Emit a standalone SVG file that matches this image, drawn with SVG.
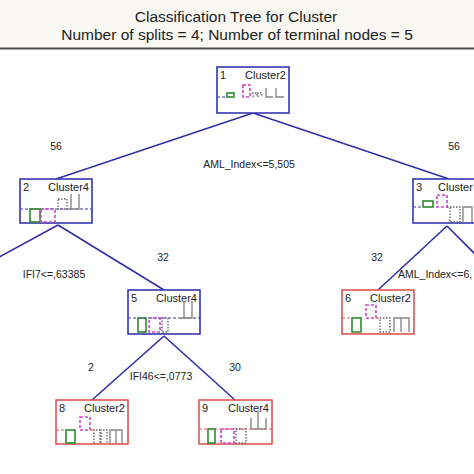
<svg xmlns="http://www.w3.org/2000/svg" width="474" height="474" viewBox="0 0 474 474">
<style>
text{font-family:"Liberation Sans",Arial,sans-serif;fill:#222}
.t{font-size:15.5px;text-anchor:middle}
.n{font-size:11px}
.r{text-anchor:end}
.lbl{font-size:10.5px;text-anchor:middle}
.bb{fill:#fff;stroke:#3535b0;stroke-width:1.6}
.rb{fill:#fff;stroke:#e05555;stroke-width:1.6}
.bd{stroke:#3535b0;stroke-width:1.2;stroke-dasharray:3 2;fill:none}
.rd{stroke:#e05555;stroke-width:1.2;stroke-dasharray:3 2;fill:none}
.g{fill:none;stroke:#2e8b2e;stroke-width:1.6}
.m{fill:none;stroke:#d040d0;stroke-width:1.6;stroke-dasharray:3 2}
.d{fill:none;stroke:#666;stroke-width:1.4;stroke-dasharray:1.5 1.5}
.s{fill:none;stroke:#888;stroke-width:1.4}
.c{stroke:#3030a8;stroke-width:1.6;fill:none}
</style>
<rect width="474" height="474" fill="#fff"/>
<rect width="474" height="48" fill="#f9f8f2"/>
<line x1="0" y1="48.5" x2="474" y2="48.5" stroke="#4a4a4a" stroke-width="2.2"/>
<text class="t" x="236" y="22">Classification Tree for Cluster</text>
<text class="t" x="237" y="40">Number of splits = 4; Number of terminal nodes = 5</text>

<g id="connectors">
<path class="c" d="M253,113 L56,179 M253,113 L449,179"/>
<path class="c" d="M58,225 L-10,262 M58,225 L164,290"/>
<path class="c" d="M447,226 L378,290 M447,226 L480,259"/>
<path class="c" d="M164,336 L92,400 M164,336 L235,400"/>
</g>

<g id="edge-labels">
<text class="lbl" x="56" y="150">56</text>
<text class="lbl" x="454" y="150">56</text>
<text class="lbl" x="249" y="168">AML_Index&lt;=5,505</text>
<text class="lbl" x="163" y="261">32</text>
<text class="lbl" x="377" y="261">32</text>
<text class="lbl" x="54" y="278">IFI7&lt;=,63385</text>
<text class="lbl" x="398" y="278" style="text-anchor:start">AML_Index&lt;=6,</text>
<text class="lbl" x="91" y="371">2</text>
<text class="lbl" x="235" y="371">30</text>
<text class="lbl" x="161" y="380">IFI46&lt;=,0773</text>
</g>

<g id="node1">
<rect class="bb" x="217" y="67" width="72" height="46"/>
<text class="n" x="220" y="79">1</text>
<text class="n r" x="286" y="79">Cluster2</text>
<line class="bd" x1="217" y1="97" x2="226" y2="97"/>
<rect class="g" x="227" y="93" width="7" height="4"/>
<rect class="m" x="243" y="85" width="7" height="12"/>
<path class="d" d="M253,97 V93 H257 V97 M258,97 V93 H262 V97"/>
<path class="s" d="M266,88 V97 H273 M276,88 V97 H284"/>
</g>

<g id="node2">
<rect class="bb" x="20" y="179" width="72" height="44"/>
<text class="n" x="23" y="191">2</text>
<text class="n r" x="89" y="191">Cluster4</text>
<line class="bd" x1="20" y1="209" x2="92" y2="209"/>
<rect class="g" x="30" y="209" width="10" height="13"/>
<rect class="m" x="41" y="209" width="14" height="13"/>
<rect class="d" x="58" y="199" width="9" height="10"/>
<path class="s" d="M67,209 H71 V194 M71,209 H79 V194"/>
</g>

<g id="node3">
<rect class="bb" x="413" y="179" width="72" height="44"/>
<text class="n" x="416" y="191">3</text>
<text class="n" x="438" y="191">Cluster</text>
<line class="bd" x1="413" y1="207" x2="422" y2="207"/>
<rect class="g" x="423" y="201" width="10" height="6"/>
<rect class="m" x="437" y="195" width="10" height="12"/>
<line class="d" x1="447" y1="207" x2="450" y2="207"/>
<rect class="d" x="450" y="207" width="10" height="15"/>
<path class="s" d="M463,222 V207 H472 V222"/>
</g>

<g id="node5">
<rect class="bb" x="128" y="290" width="72" height="44"/>
<text class="n" x="131" y="302">5</text>
<text class="n r" x="197" y="302">Cluster4</text>
<line class="bd" x1="128" y1="318" x2="200" y2="318"/>
<rect class="g" x="138" y="318" width="8" height="14"/>
<rect class="m" x="149" y="318" width="11" height="14"/>
<rect class="d" x="162" y="318" width="6" height="14"/>
<path class="s" d="M180,318 H184 V301 M184,318 H192 V301"/>
</g>

<g id="node6">
<rect class="rb" x="342" y="290" width="72" height="44"/>
<text class="n" x="345" y="302">6</text>
<text class="n r" x="411" y="302">Cluster2</text>
<line class="rd" x1="342" y1="318" x2="351" y2="318"/>
<rect class="g" x="352" y="318" width="9" height="14"/>
<rect class="m" x="366" y="305" width="10" height="13"/>
<line class="rd" x1="376" y1="318" x2="380" y2="318"/>
<rect class="d" x="380" y="318" width="10" height="14"/>
<path class="s" d="M394,332 V318 H401 V332 M401,318 H409 V332"/>
</g>

<g id="node8">
<rect class="rb" x="56" y="400" width="72" height="44"/>
<text class="n" x="59" y="412">8</text>
<text class="n r" x="125" y="412">Cluster2</text>
<line class="rd" x1="56" y1="430" x2="65" y2="430"/>
<rect class="g" x="66" y="430" width="9" height="13"/>
<rect class="m" x="80" y="417" width="10" height="13"/>
<line class="rd" x1="90" y1="430" x2="94" y2="430"/>
<path class="d" d="M94,443 V430 H100 V443 M101,443 V430 H107 V443"/>
<path class="s" d="M110,443 V430 H116 V443 M116,430 H122 V443"/>
</g>

<g id="node9">
<rect class="rb" x="199" y="400" width="73" height="44"/>
<text class="n" x="202" y="412">9</text>
<text class="n r" x="269" y="412">Cluster4</text>
<line class="rd" x1="199" y1="429" x2="272" y2="429"/>
<rect class="g" x="208" y="429" width="7" height="14"/>
<rect class="m" x="221" y="429" width="13" height="14"/>
<rect class="d" x="236" y="429" width="10" height="14"/>
<path class="s" d="M251,429 V418 M251,429 H258 V411 M258,429 H266 V418"/>
</g>
</svg>
